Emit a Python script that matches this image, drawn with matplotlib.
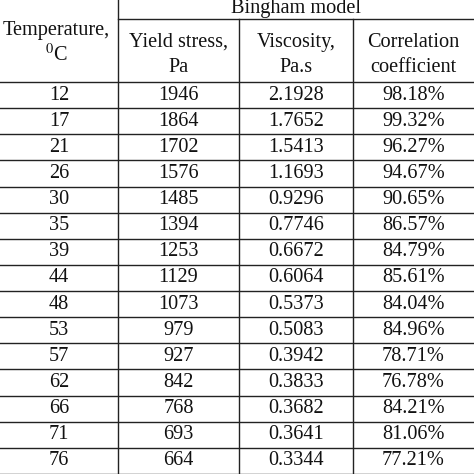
import matplotlib
matplotlib.use('Agg')
import matplotlib.pyplot as plt

plt.rcParams['mathtext.fontset'] = 'stix'

temperature = [12, 17, 21, 26, 30, 35, 39, 44, 48, 53, 57, 62, 66, 71, 76]
yield_stress = [1946, 1864, 1702, 1576, 1485, 1394, 1253, 1129, 1073, 979, 927, 842, 768, 693, 664]
viscosity = ['2.1928', '1.7652', '1.5413', '1.1693', '0.9296', '0.7746', '0.6672', '0.6064',
             '0.5373', '0.5083', '0.3942', '0.3833', '0.3682', '0.3641', '0.3344']
correlation = ['98.18%', '99.32%', '96.27%', '94.67%', '90.65%', '86.57%', '84.79%', '85.61%',
               '84.04%', '84.96%', '78.71%', '76.78%', '84.21%', '81.06%', '77.21%']

W = H = 474
col_x = [0, 118, 239, 353, 474]
head_top, head_mid, head_bot = 0, 19, 82
row_h = (H - head_bot) / len(temperature)

fig = plt.figure(figsize=(4.74, 4.74), dpi=100)
ax = fig.add_axes([0, 0, 1, 1])
ax.set_xlim(0, W); ax.set_ylim(H, 0); ax.axis('off')
font = dict(family=['Liberation Serif', 'DejaVu Serif'], fontsize=14.6, color='#111111')
lc = dict(color='#222222', lw=1.0)

# grid lines
for x in col_x[1:4]:
    y0 = head_mid if x != col_x[1] else head_top
    ax.plot([x, x], [y0, H], **lc)
ax.plot([col_x[1], W], [head_mid, head_mid], **lc)
for i in range(len(temperature) + 1):
    y = head_bot + i * row_h
    ax.plot([0, W], [y, y], **lc)

# header
ax.text((col_x[1] + W) / 2, 8, 'Bingham model', ha='center', va='center', **font)
ax.text(col_x[0] + 56, 30, 'Temperature,', ha='center', va='center', **font)
ax.text(col_x[0] + 56, 55, r'$^{0}$C', ha='center', va='center', **font)
heads = [('Yield stress,', 'Pa'), ('Viscosity,', 'Pa.s'), ('Correlation', 'coefficient')]
for j, (a, b) in enumerate(heads):
    cx = (col_x[j + 1] + col_x[j + 2]) / 2
    ax.text(cx, 42, a, ha='center', va='center', **font)
    ax.text(cx, 67, b, ha='center', va='center', **font)

# body
for i in range(len(temperature)):
    cy = head_bot + (i + 0.5) * row_h
    vals = [str(temperature[i]), str(yield_stress[i]), viscosity[i], correlation[i]]
    for j, v in enumerate(vals):
        ax.text((col_x[j] + col_x[j + 1]) / 2, cy, v, ha='center', va='center', **font)

fig.savefig('out.png', dpi=100, facecolor='white')
